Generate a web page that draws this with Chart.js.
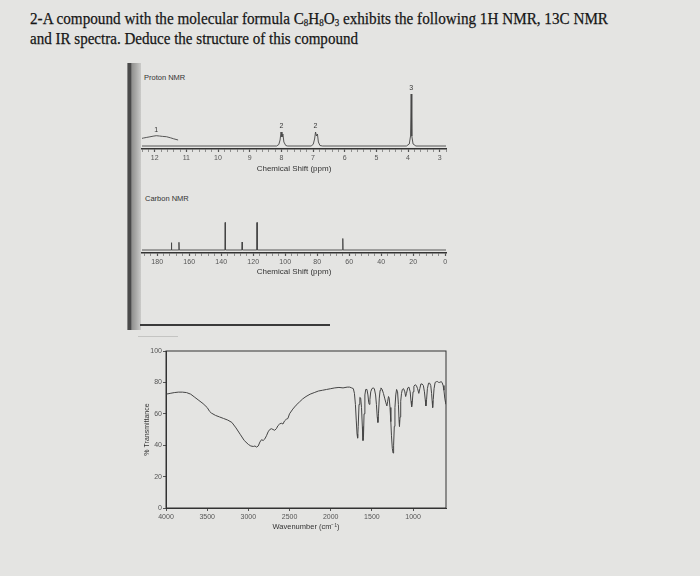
<!DOCTYPE html>
<html>
<head>
<meta charset="utf-8">
<script src="https://cdn.jsdelivr.net/npm/chart.js@4"></script>
<style>
  body { margin: 0; width: 700px; height: 576px; background: #e4e4e2; position: relative; overflow: hidden; }
  #title { position: absolute; left: 30px; top: 9px; font: 17px "Liberation Serif", serif; color: #161616; line-height: 20px; white-space: nowrap; -webkit-text-stroke: 0.25px #161616; }
  #title span { display: inline-block; transform-origin: left center; }
  #title sub { font-size: 10px; vertical-align: -2px; line-height: 0; }
  .lbl { position: absolute; font: 7.5px "Liberation Sans", sans-serif; color: #333; }
  canvas { position: absolute; }
  #strip { position: absolute; left: 127px; top: 63px; width: 14px; height: 267px;
    background: linear-gradient(to right, #a4a4a2 0, #4a4a4a 1.5px, #4a4a4a 3.5px, #929290 5px, #aaaaa8 9px, #cbcbc9 14px); }
  #edge { position: absolute; left: 140px; top: 324px; width: 190px; height: 2px; background: #3a3a3a; }
  #edge2 { position: absolute; left: 138px; top: 336px; width: 40px; height: 1px; background: #c4c4c2; }
</style>
</head>
<body>
<div id="title"><span id="l1">2-A compound with the molecular formula C<sub>8</sub>H<sub>8</sub>O<sub>3</sub> exhibits the following 1H NMR, 13C NMR</span><br><span id="l2">and IR spectra. Deduce the structure of this compound</span></div>
<div id="strip"></div><div id="edge"></div><div id="edge2"></div>
<div class="lbl" style="left:144px; top:73px;">Proton NMR</div>
<div class="lbl" style="left:145px; top:194px;">Carbon NMR</div>
<canvas id="proton" width="330" height="120" style="left:130px; top:62px;"></canvas>
<canvas id="carbon" width="330" height="95" style="left:130px; top:190px;"></canvas>
<canvas id="ir" width="340" height="200" style="left:120px; top:338px;"></canvas>
<script>
// 1H NMR trace (ppm, height)
const protonShift = [12.4, 8.15, 8.08, 8.04, 8.01, 7.98, 7.95, 7.92, 7.86, 7.8,
  7.05, 6.99, 6.95, 6.92, 6.89, 6.86, 6.83, 6.78, 6.7,
  4.05, 3.96, 3.92, 3.9, 3.88, 3.84, 3.75, 2.8];
const protonIntensity = [0, 0, 1.5, 6, 14, 9, 12, 4, 0.5, 0,
  0, 2, 7, 14, 10, 12, 4, 0.5, 0,
  0, 2, 10, 52, 10, 2, 0, 0];
// broad COOH hump drawn above the baseline
const protonHumpShift = [12.42, 12.35, 12.25, 12.15, 12.05, 11.95, 11.85, 11.75, 11.63, 11.5, 11.4, 11.26];
const protonHumpIntensity = [7.5, 8, 8.6, 9.2, 9.8, 10.3, 10, 9.6, 9.3, 8.2, 7.2, 6];
const protonTicks = [3, 4, 5, 6, 7, 8, 9, 10, 11, 12];
const protonPeakAt = [11.95, 8.0, 6.92, 3.9];
const protonPeakText = ['1', '2', '2', '3'];

// 13C NMR lines (ppm, height)
const carbonLines = [171.1, 166.4, 137.5, 126.9, 117.6, 64.0];
const carbonHeights = [7.3, 7.7, 27.5, 8, 27.5, 11.5];
const carbonTicks = [0, 20, 40, 60, 80, 100, 120, 140, 160, 180];

// IR spectrum
const irWavenumber = [4000, 3950, 3900, 3850, 3800, 3750, 3700, 3650, 3600, 3550, 3500, 3470, 3450, 3400, 3350, 3300, 3250, 3200, 3150, 3100, 3050, 3000,
  2970, 2940, 2920, 2900, 2880, 2860, 2840, 2820, 2800, 2780, 2760, 2740, 2720, 2700, 2680, 2660, 2640, 2620, 2600, 2580, 2560, 2540, 2520, 2500,
  2460, 2420, 2380, 2340, 2300, 2250, 2200, 2150, 2100, 2050, 2000, 1950, 1900, 1850, 1800, 1770, 1745,
  1725, 1712, 1700, 1690, 1680, 1673, 1666, 1656, 1646, 1636, 1626, 1616, 1608, 1602, 1595, 1585, 1575, 1560, 1548, 1538, 1531, 1524, 1514, 1500,
  1485, 1470, 1455, 1445, 1435, 1427, 1420, 1410, 1400, 1390, 1375, 1360, 1345, 1330, 1318, 1308, 1298, 1290, 1280, 1270, 1262, 1252, 1243, 1236, 1228, 1220, 1210, 1200,
  1188, 1178, 1170, 1165, 1158, 1150, 1140, 1130, 1115, 1100, 1090, 1080, 1065, 1050, 1035, 1025, 1017, 1010, 1000, 990, 975, 960, 945, 930, 918, 905, 890, 875,
  862, 852, 844, 836, 826, 812, 798, 785, 775, 768, 762, 755, 745, 732, 715, 700, 690, 675, 660, 648, 635, 625, 615, 605, 600];
const irTransmittance = [72.5, 73, 73.5, 73.8, 73.8, 73.5, 72.5, 70.5, 68.5, 66.5, 64, 61.5, 60.5, 59, 58, 57, 56, 54.5, 51, 47, 43, 40.5,
  39.5, 39.2, 39.5, 38.8, 39.5, 42, 43.5, 43, 44, 46, 48.5, 50, 50.5, 50, 49.5, 50.5, 52.5, 53.5, 54, 53.5, 55.5, 56.5, 57, 60,
  63, 65.5, 67.5, 69.5, 71, 72.5, 73.5, 74.5, 75, 75.5, 76, 76.5, 76.8, 76.5, 77, 77, 76.5,
  76, 73, 66, 56, 47, 44.5, 52, 66, 70.5, 70, 64, 52, 43, 45, 60, 72, 75.5, 75.5, 72, 67, 66, 69, 74, 76,
  76.5, 76, 72, 66, 58, 54.5, 60, 70, 75, 76.5, 75.5, 73, 70, 67, 65, 68, 71, 70, 64, 55, 46, 38, 35, 40, 52, 64, 72, 75.5,
  74, 66, 56, 52, 58, 68, 73, 75.5, 76, 74, 71, 73, 76.5, 77, 74, 68, 64.5, 67, 74, 77.5, 78.5, 78, 76, 73, 76, 79, 79, 78,
  74, 69, 65, 69, 76, 79.5, 79.5, 78, 73, 68, 64, 69, 76, 80, 80.5, 80.5, 80, 80, 80.5, 80, 78, 75, 70, 67, 66];
const irXTicks = [1000, 1500, 2000, 2500, 3000, 3500, 4000];
const irYTicks = [0, 20, 40, 60, 80, 100];

const pts = (xs, ys) => xs.map((x, i) => ({ x, y: ys[i] }));
const tickFont = { size: 7, family: 'Liberation Sans' };
const ink = '#333';
const trace = '#454545';

// stick spectrum from line positions
const carbonData = [{ x: 189.5, y: 0 }];
carbonLines.forEach((s, i) => {
  carbonData.push({ x: s + 0.15, y: 0 }, { x: s, y: carbonHeights[i] }, { x: s - 0.15, y: 0 });
});
carbonData.push({ x: -0.5, y: 0 });

const peakLabels = {
  id: 'peakLabels',
  afterDatasetsDraw(chart, args, opts) {
    if (!opts.at) return;
    const { ctx, scales: { x, y } } = chart;
    ctx.save();
    ctx.font = '7px "Liberation Sans"';
    ctx.fillStyle = ink;
    ctx.textAlign = 'center';
    ctx.textBaseline = 'bottom';
    opts.at.forEach((s, i) => {
      let h = 0;
      chart.data.datasets.forEach(ds => ds.data.forEach(p => {
        if (Math.abs(p.x - s) < 0.15 && p.y > h) h = p.y;
      }));
      ctx.fillText(opts.text[i], x.getPixelForValue(s), y.getPixelForValue(h) - 2);
    });
    ctx.restore();
  }
};

const frame = {
  id: 'frame',
  afterDraw(chart, args, opts) {
    if (!opts.on) return;
    const { ctx, chartArea: a } = chart;
    ctx.save();
    ctx.strokeStyle = ink;
    ctx.lineWidth = 1;
    ctx.strokeRect(a.left, a.top, a.right - a.left, a.bottom - a.top);
    ctx.restore();
  }
};

function nmrChart(id, datasets, xMin, xMax, major, minorStep, padTop, yMax, axisH, labels) {
  return new Chart(document.getElementById(id), {
    type: 'line',
    data: { datasets },
    options: {
      responsive: false,
      animation: false,
      layout: { padding: { left: 12, right: 14, top: padTop, bottom: 0 } },
      plugins: { legend: { display: false }, tooltip: { enabled: false }, peakLabels: labels },
      elements: { point: { radius: 0 }, line: { borderWidth: 0.9, borderColor: trace, tension: 0 } },
      scales: {
        x: {
          type: 'linear', reverse: true, min: xMin, max: xMax,
          afterBuildTicks: s => {
            const t = [];
            for (let v = Math.ceil(xMin / minorStep) * minorStep; v <= xMax; v += minorStep) t.push({ value: Math.round(v * 100) / 100 });
            s.ticks = t;
          },
          ticks: {
            autoSkip: false, maxRotation: 0, font: tickFont, color: '#555', padding: 2,
            callback: v => major.includes(v) ? String(v) : ''
          },
          grid: { drawOnChartArea: false, tickLength: 3, tickColor: '#555',
            tickWidth: c => major.includes(c.tick && c.tick.value) ? 1.2 : 0.6 },
          border: { display: true, color: ink, width: 1.5 },
          title: { display: true, text: 'Chemical Shift (ppm)', color: ink,
            font: { size: 8, family: 'Liberation Sans' }, padding: { top: 0, bottom: 8 } },
          afterFit: s => { s.height = axisH; }
        },
        y: { display: false, min: -3, max: yMax }
      }
    },
    plugins: [peakLabels]
  });
}

nmrChart('proton', [
  { data: pts(protonShift, protonIntensity) },
  { data: pts(protonHumpShift, protonHumpIntensity) }
], 2.8, 12.4, protonTicks, 0.2, 20, 64, 33, { at: protonPeakAt, text: protonPeakText });

nmrChart('carbon', [{ data: carbonData }], -0.5, 189.5, carbonTicks, 4, 15, 45, 32, {});

new Chart(document.getElementById('ir'), {
  type: 'line',
  data: { datasets: [{ data: pts(irWavenumber, irTransmittance), borderColor: trace, borderWidth: 1, pointRadius: 0, tension: 0 }] },
  options: {
    responsive: false,
    animation: false,
    layout: { padding: { left: 16, right: 14, top: 13, bottom: 0 } },
    plugins: { legend: { display: false }, tooltip: { enabled: false }, frame: { on: true } },
    scales: {
      x: {
        type: 'linear', reverse: true, min: 600, max: 4000,
        afterBuildTicks: s => { s.ticks = irXTicks.map(value => ({ value })); },
        ticks: { autoSkip: false, maxRotation: 0, font: tickFont, color: '#555', padding: 2, callback: v => String(v) },
        grid: { drawOnChartArea: false, tickLength: 3, tickColor: '#555' },
        border: { display: true, color: ink },
        title: { display: true, text: 'Wavenumber (cm\u207B\u00B9)', color: ink,
          font: { size: 7.5, family: 'Liberation Sans' }, padding: { top: 0, bottom: 6.5 } },
        afterFit: s => { s.height = 30; }
      },
      y: {
        min: 0, max: 100,
        afterBuildTicks: s => { s.ticks = irYTicks.map(value => ({ value })); },
        ticks: { font: tickFont, color: '#555', padding: 1, callback: v => String(v) },
        grid: { drawOnChartArea: false, tickLength: 3, tickColor: '#555' },
        border: { display: true, color: ink },
        title: { display: true, text: '% Transmittance', color: ink,
          font: { size: 7, family: 'Liberation Sans' }, padding: { top: 7, bottom: 0 } },
        afterFit: s => { s.width = 30; }
      }
    }
  },
  plugins: [frame]
});

// squeeze the heading lines to the widths seen in the photo
[['l1', 578], ['l2', 328]].forEach(([id, w]) => {
  const el = document.getElementById(id);
  el.style.transform = 'scaleX(' + (w / el.getBoundingClientRect().width) + ')';
});
</script>
</body>
</html>
